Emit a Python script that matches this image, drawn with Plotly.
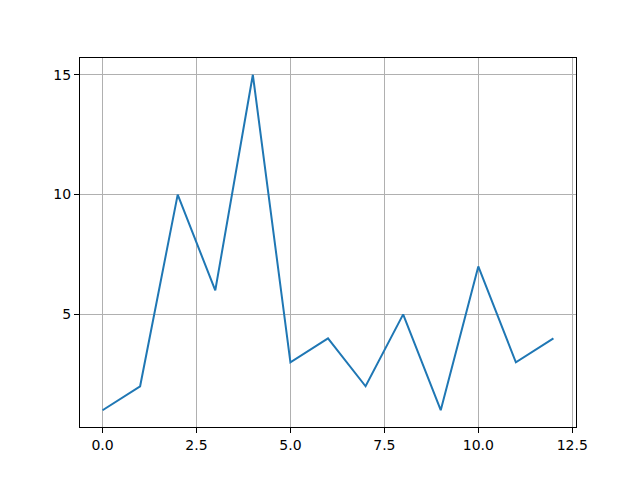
import plotly.graph_objects as go

# data
x_vals = list(range(13))
y_vals = [1, 2, 10, 6, 15, 3, 4, 2, 5, 1, 7, 3, 4]

x_ticks = [0, 2.5, 5, 7.5, 10, 12.5]
x_tick_labels = ["0.0", "2.5", "5.0", "7.5", "10.0", "12.5"]
y_ticks = [5, 10, 15]

fig = go.Figure()
fig.add_scatter(x=x_vals, y=y_vals, mode="lines",
                line=dict(color="#1f77b4", width=2))

axis_style = dict(showline=True, linecolor="black", linewidth=1, mirror=True,
                  ticks="outside", ticklen=5, tickwidth=1, tickcolor="black",
                  showgrid=True, gridcolor="#b0b0b0", gridwidth=1,
                  zeroline=False, tickfont=dict(family="DejaVu Sans", size=14, color="black"))

fig.update_xaxes(range=[-0.6, 12.6], tickvals=x_ticks, ticktext=x_tick_labels, **axis_style)
fig.update_yaxes(range=[0.3, 15.7], tickvals=y_ticks, **axis_style)

fig.update_layout(width=640, height=480, showlegend=False,
                  margin=dict(l=80, r=64, t=58, b=53),
                  plot_bgcolor="white", paper_bgcolor="white")

# drop the default page margin so the figure sits at the window corner
fig.write_html("out.html", config={"displayModeBar": False},
               post_script="document.body.style.margin='0';")
